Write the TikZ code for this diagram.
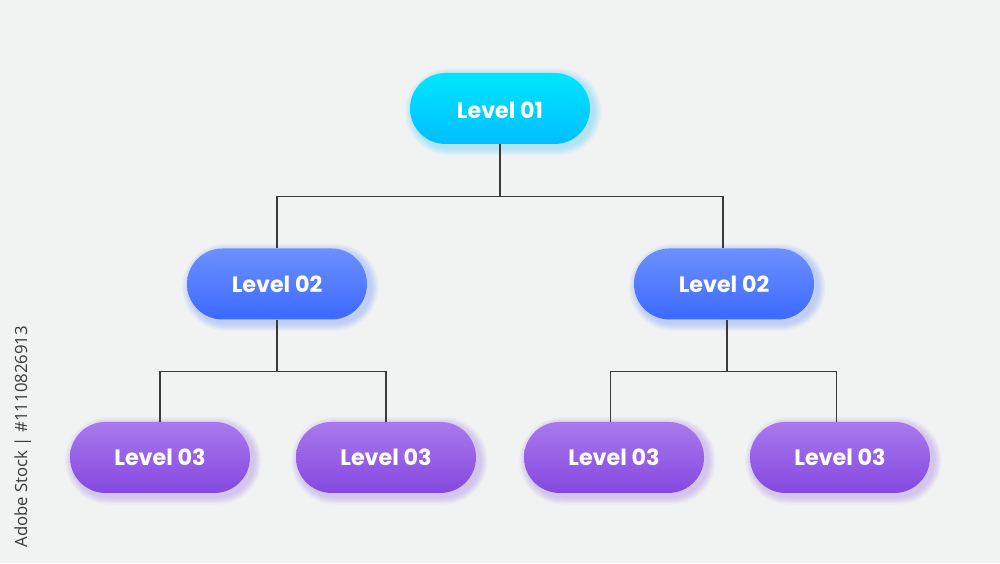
\documentclass[tikz,border=0pt]{standalone}
\usepackage{fontspec}
\setmainfont{Poppins}
\newfontfamily\sidefont{Open Sans}
\usetikzlibrary{positioning,calc,backgrounds,shapes.misc}

\definecolor{pagebg}{HTML}{F1F3F3}
\definecolor{cyanA}{HTML}{00E6FF}
\definecolor{cyanB}{HTML}{00BEFF}
\definecolor{blueA}{HTML}{6C90FF}
\definecolor{blueB}{HTML}{3C69FF}
\definecolor{violetA}{HTML}{A97AEC}
\definecolor{violetB}{HTML}{8448E0}
\definecolor{linkcol}{HTML}{3A3A3A}

\tikzset{
  pill/.style={rounded rectangle, minimum width=5.4cm, minimum height=2.13cm, inner sep=0pt,
    text=white, font=\fontsize{19}{22}\selectfont\bfseries},
  lvlone/.style={pill, top color=cyanA, bottom color=cyanB, text height=17pt},
  lvltwo/.style={pill, top color=blueA, bottom color=blueB},
  lvlthree/.style={pill, top color=violetA, bottom color=violetB},
  link/.style={draw=linkcol, line width=0.42mm}
}

\begin{document}
\begin{tikzpicture}

\useasboundingbox (0,0) rectangle (30,16.89);

% Levels
\node[lvlone] (top) at (15,13.635) {Level 01};

\node[lvltwo, below left=31.2mm and 34.2mm of top] (midL) {Level 02};
\node[lvltwo, below right=31.2mm and 34.5mm of top] (midR) {Level 02};

\node[lvlthree, below left=30.6mm and 2.4mm of midL] (lowA) {Level 03};
\node[lvlthree, below right=30.6mm and 0mm of midL] (lowB) {Level 03};
\node[lvlthree, below left=30.6mm and 0.3mm of midR] (lowC) {Level 03};
\node[lvlthree, below right=30.6mm and 2.1mm of midR] (lowD) {Level 03};

% Stock number
\node[rotate=90, text=linkcol, font=\sidefont\fontsize{14.3}{17}\selectfont] (stockno) at (0.68,3.79) {Adobe Stock | \#1110826913};

% Bus points
\coordinate (busT) at ($(top.south)+(0,-1.56)$);
\coordinate (busL) at ($(midL.south)+(0,-1.56)$);
\coordinate (busR) at ($(midR.south)+(0.09,-1.56)$);

% Arrows
\draw[link] (top.south) -- (busT);
\draw[link] (midL.north) |- (busT) -| ([xshift=-0.03cm]midR.north);
\draw[link] (midL.south) -- (busL);
\draw[link] (lowA.north) |- (busL) -| (lowB.north);
\draw[link] ([xshift=0.09cm]midR.south) -- (busR);
\draw[link] ([xshift=-0.1cm]lowC.north) |- (busR) -| ([xshift=-0.1cm]lowD.north);

% Glow under the pills
\begin{scope}[on background layer]
\fill[pagebg] (0,0) rectangle (30,16.89);
\foreach \n/\c in {top/cyanB,midL/blueB,midR/blueB,lowA/violetB,lowB/violetB,lowC/violetB,lowD/violetB}{
  \foreach \g in {1,...,8}{
    \pgfmathsetlengthmacro{\rad}{1.065cm+\g*0.03cm}
    \fill[\c, fill opacity=0.035, rounded corners=\rad]
      ($(\n.west |- \n.south)+(0.1-\g*0.03,-0.1-\g*0.03)$) rectangle ($(\n.east |- \n.north)+(0.1+\g*0.03,-0.1+\g*0.03)$);
  }
}
\end{scope}

\end{tikzpicture}
\end{document}
